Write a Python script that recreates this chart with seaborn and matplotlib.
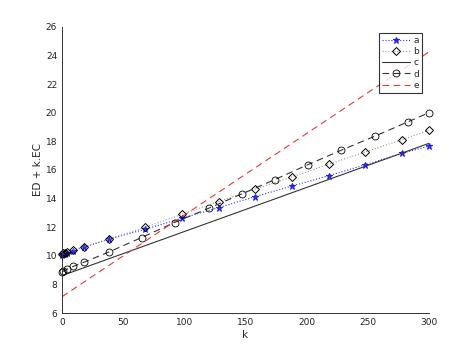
import matplotlib
matplotlib.use("Agg")
import matplotlib.pyplot as plt
import seaborn as sns
import pandas as pd

k_a = [0, 1, 2, 4, 9, 18, 38, 68, 98, 128, 158, 188, 218, 248, 278, 300]
a_vals = [10.07, 10.1, 10.13, 10.19, 10.37, 10.6, 11.16, 11.86, 12.63, 13.37, 14.14, 14.88, 15.6, 16.37, 17.16, 17.67]
k_b = [0, 1, 2, 4, 9, 18, 38, 68, 98, 128, 158, 188, 218, 248, 278, 300]
b_vals = [10.14, 10.17, 10.2, 10.27, 10.4, 10.65, 11.16, 12.0, 12.9, 13.79, 14.67, 15.51, 16.4, 17.26, 18.12, 18.77]
k_c = [0, 300]
c_vals = [8.62, 17.86]
k_d = [0, 1, 4, 9, 18, 38, 65, 92, 120, 147, 174, 201, 228, 256, 283, 300]
d_vals = [8.9, 8.93, 9.07, 9.26, 9.56, 10.26, 11.28, 12.33, 13.33, 14.33, 15.33, 16.37, 17.37, 18.37, 19.37, 20.0]
k_e = [0, 300]
e_vals = [7.15, 24.25]

x_ticks = [0, 50, 100, 150, 200, 250, 300]
y_ticks = [6, 8, 10, 12, 14, 16, 18, 20, 22, 24, 26]

sns.set_style("white")
plt.rcParams['font.family'] = ['DejaVu Sans']

fig = plt.figure(figsize=(4.74, 3.53), dpi=100)
ax = fig.add_axes([0.131, 0.113, 0.774, 0.811])

sns.lineplot(x=k_a, y=a_vals, ax=ax, color='#3030ff', linestyle=':', linewidth=0.8,
             marker='*', markersize=5, markeredgecolor='#2020ee', label='a', clip_on=False)
sns.lineplot(x=k_b, y=b_vals, ax=ax, color='#999999', linestyle=':', linewidth=0.8,
             marker='D', markersize=4, markerfacecolor='none', markeredgecolor='black',
             markeredgewidth=0.7, label='b', clip_on=False)
sns.lineplot(x=k_c, y=c_vals, ax=ax, color='#333333', linestyle='-', linewidth=0.8, label='c')
sns.lineplot(x=k_d, y=d_vals, ax=ax, color='#333333', linestyle=(0, (6, 4)), linewidth=0.8,
             marker='o', markersize=5, markerfacecolor='none', markeredgecolor='black',
             markeredgewidth=0.6, label='d', clip_on=False)
sns.lineplot(x=k_e, y=e_vals, ax=ax, color='#e03a3a', linestyle=(0, (6, 4)), linewidth=0.8, label='e')

ax.set_xlim(0, 300)
ax.set_ylim(6, 26)
ax.set_xticks(x_ticks)
ax.set_yticks(y_ticks)
ax.tick_params(direction='in', length=3, width=0.6, labelsize=6.5, colors='#222222')
ax.set_xlabel('k', fontsize=7.5, labelpad=2)
ax.set_ylabel('ED + k.EC', fontsize=7.5, labelpad=2)
for s in ['top', 'right']:
    ax.spines[s].set_visible(False)
for s in ['left', 'bottom']:
    ax.spines[s].set_color('#333333')
    ax.spines[s].set_linewidth(0.7)

leg = ax.legend(loc='upper right', bbox_to_anchor=(0.98, 0.978), fontsize=6.5, frameon=True,
                fancybox=False, handlelength=3.2, handletextpad=0.3, borderpad=0.3,
                labelspacing=0.25, borderaxespad=0.0)
leg.get_frame().set_edgecolor('black')
leg.get_frame().set_linewidth(0.8)

fig.savefig('out.png', dpi=100, facecolor='white')
